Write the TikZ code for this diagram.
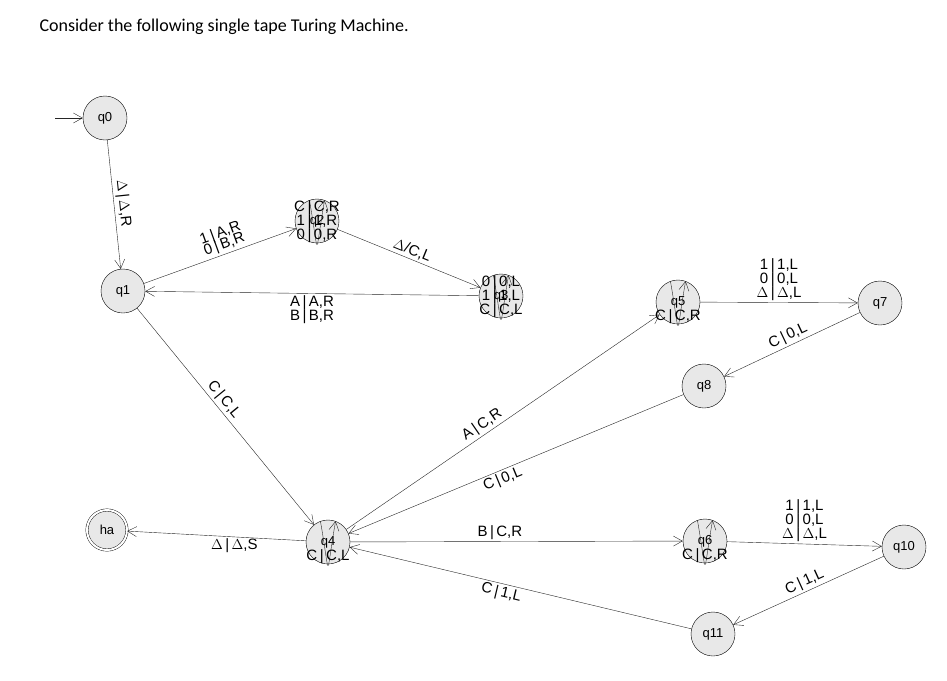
\documentclass[tikz,border=0pt]{standalone}
\usepackage{fontspec}
\setmainfont{Liberation Sans}
\newfontfamily\ttl{Carlito}
\usetikzlibrary{arrows.meta}
\newcommand{\bb}{\,\textbar\,}
\newcommand{\dd}{$\Delta$}
\begin{document}
\begin{tikzpicture}[x=1pt,y=-1pt,
 st/.style={circle,draw,fill=gray!18,minimum size=44pt,inner sep=0pt,font=\fontsize{13}{15}\selectfont},
 ed/.style={-{Straight Barb[length=9pt,width=10pt]},draw=gray!30!black},
 lb/.style={font=\fontsize{15}{17}\selectfont,align=center,inner sep=2pt}]
\useasboundingbox (0,0) rectangle (947,680);
\node[anchor=west,font=\ttl\fontsize{18}{20}\selectfont] (t) at (36,27) {Consider the following single tape Turing Machine.};
\node[st] (q0) at (105,118) {q0};
\node[st] (q1) at (123,291) {q1};
\node[st] (q2) at (317,221) {q2};
\node[st] (q3) at (501,296) {q3};
\node[st] (q4) at (328,542) {q4};
\node[st,double,double distance=2pt,minimum size=40pt] (ha) at (107,530) {ha};
\node[st] (q5) at (678,302) {q5};
\node[st] (q7) at (880,303) {q7};
\node[st] (q8) at (704,386) {q8};
\node[st] (q6) at (705,541) {q6};
\node[st] (q10) at (904,547) {q10};
\node[st] (q11) at (713,634) {q11};
\coordinate (s) at (55,118);
\draw[ed] (s) -- (q0);
\draw[ed] (q0) -- node[lb,sloped,above] {\dd\bb\dd,R} (q1);
\draw[ed] (q1) -- node[lb,sloped,above,pos=0.55] {1\bb A,R\\[-5pt]0\bb B,R} (q2);
\draw[ed] (q2.110) .. controls +(-100:-60) and +(-80:-60) .. node[lb,above] {C\bb C,R\\[-3pt]1\bb 1,R\\[-3pt]0\bb 0,R} (q2.70);
\draw[ed] (q2) -- node[lb,sloped,above] {\dd/C,L} (q3);
\draw[ed] (q3.110) .. controls +(-100:-60) and +(-80:-60) .. node[lb,above] {0\bb 0,L\\[-3pt]1\bb 1,L\\[-3pt]C\bb C,L} (q3.70);
\draw[ed] (q3) -- node[lb,below] {A\bb A,R\\[-3pt]B\bb B,R} (q1);
\draw[ed] (q1) -- node[lb,sloped,above,pos=0.45] {C\bb C,L} (q4);
\draw[ed] (q4.110) .. controls +(-100:-60) and +(-80:-60) .. node[lb,above] {C\bb C,L} (q4.70);
\draw[ed] (q4) -- node[lb,below,pos=0.4] {\dd\bb\dd,S} (ha);
\draw[ed] (q4) -- node[lb,sloped,above,pos=0.45] {A\bb C,R} (q5);
\draw[ed] (q8) -- node[lb,sloped,below,pos=0.55] {C\bb 0,L} (q4);
\draw[ed] (q4) -- node[lb,above,pos=0.45] {B\bb C,R} (q6);
\draw[ed] (q11) -- node[lb,sloped,below,pos=0.55] {C\bb 1,L} (q4);
\draw[ed] (q5.110) .. controls +(-100:-60) and +(-80:-60) .. node[lb,above] {C\bb C,R} (q5.70);
\draw[ed] (q5) -- node[lb,above] {1\bb 1,L\\[-3pt]0\bb 0,L\\[-3pt]\dd\bb\dd,L} (q7);
\draw[ed] (q7) -- node[lb,sloped,above] {C\bb 0,L} (q8);
\draw[ed] (q6.110) .. controls +(-100:-60) and +(-80:-60) .. node[lb,above] {C\bb C,R} (q6.70);
\draw[ed] (q6) -- node[lb,above] {1\bb 1,L\\[-3pt]0\bb 0,L\\[-3pt]\dd\bb\dd,L} (q10);
\draw[ed] (q10) -- node[lb,sloped,above] {C\bb 1,L} (q11);
\end{tikzpicture}
\end{document}
